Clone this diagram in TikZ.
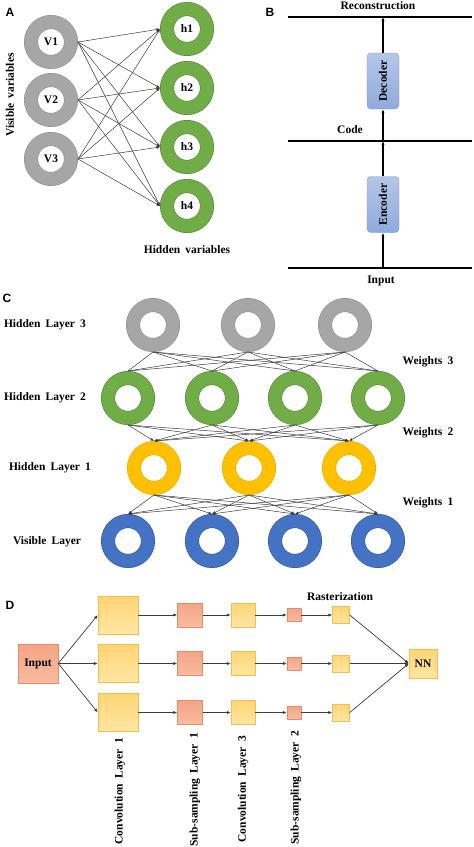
\documentclass[tikz,border=0pt]{standalone}
\usepackage{fontspec}
\setmainfont{Liberation Serif}[WordSpace=1.8]
\newfontfamily\panelfont{Liberation Sans}
\usetikzlibrary{arrows.meta}
\definecolor{ringgray}{HTML}{A6A6A6}
\definecolor{linegray}{HTML}{8E8E8E}
\definecolor{ringgreen}{HTML}{70AD47}
\definecolor{linegreen}{HTML}{507E32}
\definecolor{ringgold}{HTML}{FFC000}
\definecolor{linegold}{HTML}{E0A800}
\definecolor{ringblue}{HTML}{4472C4}
\definecolor{lineblue}{HTML}{2F528F}
\definecolor{codertop}{HTML}{B4C7E7}
\definecolor{coderbot}{HTML}{8FAADC}
\definecolor{coderline}{HTML}{7F96CE}
\definecolor{convtop}{HTML}{FFD575}
\definecolor{convbot}{HTML}{FFE6A3}
\definecolor{convline}{HTML}{F2C052}
\definecolor{pooltop}{HTML}{F5A584}
\definecolor{poolbot}{HTML}{F8BBA2}
\definecolor{poolline}{HTML}{E28E6C}
\definecolor{wire}{HTML}{3C3C3C}
\newcommand\labfont{\fontsize{11.5}{13}\selectfont\bfseries}
\tikzset{
  lab/.style={font=\labfont, inner sep=1pt},
  panel/.style={font=\panelfont\fontsize{12}{14}\selectfont\bfseries, inner sep=0pt},
  ring/.style={circle, minimum size=40pt, inner sep=0pt, outer sep=7pt, line width=0.5pt, double distance=13pt, font=\labfont},
  gry/.style={draw=linegray, double=ringgray},
  grn/.style={draw=linegreen, double=ringgreen},
  gld/.style={draw=linegold, double=ringgold},
  blu/.style={draw=lineblue, double=ringblue},
  con/.style={draw=wire, line width=0.5pt},
  tip/.style={-{Latex[length=3.5pt,width=2.8pt]}},
  rule/.style={draw=black, line width=1.6pt},
  flow/.style={draw=black, line width=1.1pt, -{Latex[length=4pt,width=3.2pt]}},
  coder/.style={draw=coderline, rounded corners=4pt, top color=codertop, bottom color=coderbot, minimum width=32pt, minimum height=56pt, inner sep=0pt, font=\labfont},
  conv/.style={draw=convline, top color=convtop, bottom color=convbot, inner sep=0pt, font=\labfont},
  pool/.style={draw=poolline, top color=pooltop, bottom color=poolbot, inner sep=0pt, font=\labfont},
  pipe/.style={draw=wire, line width=0.7pt, -{Latex[length=4pt,width=3.2pt]}},
}
\begin{document}
\begin{tikzpicture}[x=1pt,y=-1pt]
  \useasboundingbox (0,0) rectangle (474,847);
  % A
  \node[panel] (pA) at (10,12) {A};
  \node[ring,gry] (v1) at (51,42) {V1};
  \node[ring,gry] (v2) at (51,100) {V2};
  \node[ring,gry] (v3) at (51,159) {V3};
  \node[ring,grn] (h1) at (187,29) {h1};
  \node[ring,grn] (h2) at (187,88) {h2};
  \node[ring,grn] (h3) at (187,147) {h3};
  \node[ring,grn] (h4) at (187,206) {h4};
  \foreach \i in {1,2,3}
    \foreach \j in {1,2,3,4}
      \draw[con,tip] (v\i.east) -- (h\j.west);
  \node[lab,rotate=90] (visA) at (10,95) {Visible variables};
  \node[lab] (hidA) at (187,250) {Hidden variables};
  % B
  \node[panel] (pB) at (270,12) {B};
  \coordinate (recL) at (288,17);
  \coordinate (recR) at (472,17);
  \coordinate (recB) at (383,17);
  \coordinate (codeL) at (288,141);
  \coordinate (codeR) at (472,141);
  \coordinate (codeB) at (383,141);
  \coordinate (inL) at (288,268);
  \coordinate (inR) at (472,268);
  \coordinate (inB) at (383,268);
  \draw[rule] (recL) -- (recR);
  \draw[rule] (codeL) -- (codeR);
  \draw[rule] (inL) -- (inR);
  \node[coder] (dec) at (383,81) {\rotatebox{90}{Decoder}};
  \node[coder] (enc) at (383,204.5) {\rotatebox{90}{Encoder}};
  \draw[flow] (inB) -- (enc.south);
  \draw[flow] (enc.north) -- (codeB);
  \draw[flow] (codeB) -- (dec.south);
  \draw[flow] (dec.north) -- (recB);
  \node[lab] (recT) at (378,6) {Reconstruction};
  \node[lab] (codeT) at (350,130) {Code};
  \node[lab] (inT) at (381,281) {Input};
  % C
  \node[panel] (pC) at (7,298) {C};
  \node[ring,gry] (g1) at (153,325) {};
  \node[ring,gry] (g2) at (248,325) {};
  \node[ring,gry] (g3) at (345,325) {};
  \node[ring,grn] (n1) at (128,398) {};
  \node[ring,grn] (n2) at (212,398) {};
  \node[ring,grn] (n3) at (295,398) {};
  \node[ring,grn] (n4) at (378,398) {};
  \node[ring,gld] (y1) at (154,468) {};
  \node[ring,gld] (y2) at (249,468) {};
  \node[ring,gld] (y3) at (349,468) {};
  \node[ring,blu] (b1) at (128,541) {};
  \node[ring,blu] (b2) at (212,541) {};
  \node[ring,blu] (b3) at (295,541) {};
  \node[ring,blu] (b4) at (378,541) {};
  \foreach \i in {1,2,3}
    \foreach \j in {1,2,3,4} {
      \draw[con] (g\i.south) -- (n\j.north);
      \draw[con,tip] (n\j.south) -- (y\i.north);
      \draw[con,tip] (y\i.south) -- (b\j.north);
    }
  \node[lab] (l3) at (45,325) {Hidden Layer 3};
  \node[lab] (l2) at (45,398) {Hidden Layer 2};
  \node[lab] (l1) at (50,468) {Hidden Layer 1};
  \node[lab] (l0) at (47,542) {Visible Layer};
  \node[lab] (w3) at (428,362) {Weights 3};
  \node[lab] (w2) at (428,433) {Weights 2};
  \node[lab] (w1) at (428,503) {Weights 1};
  % D
  \node[panel] (pD) at (10,605) {D};
  \node[pool,minimum width=40pt,minimum height=39pt] (inp) at (38,663.5) {Input};
  \node[conv,minimum width=28pt,minimum height=29pt] (nn) at (423,663.5) {NN};
  \foreach \r/\y in {1/615,2/663.5,3/712.5} {
    \node[conv,minimum width=40pt,minimum height=38pt] (ca\r) at (118,\y) {};
    \node[pool,minimum width=25pt,minimum height=24pt] (sa\r) at (190,\y) {};
    \node[conv,minimum width=24pt,minimum height=24pt] (cb\r) at (243,\y) {};
    \node[pool,minimum width=14pt,minimum height=13pt] (sb\r) at (294,\y) {};
    \node[conv,minimum width=17pt,minimum height=17pt] (ra\r) at (341,\y) {};
    \draw[pipe] (inp.east) -- (ca\r.west);
    \draw[pipe] (ca\r) -- (sa\r);
    \draw[pipe] (sa\r) -- (cb\r);
    \draw[pipe] (cb\r) -- (sb\r);
    \draw[pipe] (sb\r) -- (ra\r);
    \draw[pipe] (ra\r.east) -- (nn.west);
  }
  \node[lab] (rasT) at (340,597) {Rasterization};
  \node[lab,rotate=90,anchor=east] (caT) at (120,737) {Convolution Layer 1};
  \node[lab,rotate=90,anchor=east] (saT) at (195,732) {Sub-sampling Layer 1};
  \node[lab,rotate=90,anchor=east] (cbT) at (243,735) {Convolution Layer 3};
  \node[lab,rotate=90,anchor=east] (sbT) at (296,730) {Sub-sampling Layer 2};
\end{tikzpicture}
\end{document}
